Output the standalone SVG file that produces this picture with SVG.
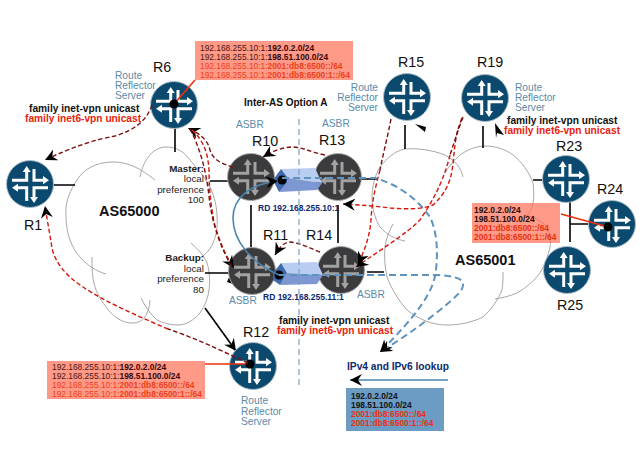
<svg xmlns="http://www.w3.org/2000/svg" width="640" height="451" viewBox="0 0 640 451">
<style>
text{font-family:"Liberation Sans",Arial,sans-serif}
.cloud{fill:none;stroke:#a8a8a8;stroke-width:1}
.bl{fill:none;stroke:#000;stroke-width:1.6}
.rd,.dk{fill:none;stroke-width:1.4;stroke-dasharray:4.5 2.5}
.rd{stroke:#d5170c}
.dk{stroke:#7d1010}
.blued{fill:none;stroke:#5f93bd;stroke-width:2;stroke-dasharray:7 4}
.or{fill:none;stroke:#f0300c;stroke-width:1.6}
.box{fill:#ff6a50;opacity:.68}
.rname{font-size:14.3px;fill:#111}
.rr{font-size:10.2px;fill:#5b8aa8}
.asbr{font-size:10.2px;fill:#5b8aa8}
.fam{font-size:10.2px;font-weight:700;fill:#111}
.famr{font-size:10.2px;font-weight:700;fill:#e8230c}
.t{font-size:8.4px;fill:#4a1510}
.t tspan{font-weight:700;fill:#3a0505}
.tr{font-size:8.4px;fill:#ef3f1c}
.tr tspan{font-weight:700}
.b{font-size:8.4px;font-weight:700;fill:#2a0a08}
.br{font-size:8.4px;font-weight:700;fill:#e8300f}
.rd8{font-size:8.5px;font-weight:700;fill:#0c2a70}
.pref{font-size:9.8px;fill:#222;text-anchor:end}
.as{font-size:14.5px;font-weight:700;fill:#111}
.blue circle{fill:#0b4a6e;stroke:#a9bcc8;stroke-width:1}
.blue use{fill:#fff}
.dark circle{fill:#3b3b3d;stroke:#a9a9a9;stroke-width:1}
.dark use{fill:#a2a2a2}
</style>
<defs>
<path id="ar" d="M-18-5.2H-4.8V-12H-7.3L-3.3-18 .7-12H-1.8V-2.2H-18ZM2.5-15H5.5V-5.2H13V-8L19-3.7 13 .3V-2.2H2.5ZM-18 3.7-12-.3V2.2H-1.8V17H-4.8V5.2H-12V7.7ZM2.5 2.2H18V5.2H5.5V13H8L4 19 0 13H2.5Z"/>
<marker id="h" markerUnits="userSpaceOnUse" markerWidth="14" markerHeight="12" refX="12" refY="6" orient="auto">
<path d="M12 6 0 0 4 6 0 12Z" fill="#000"/>
</marker>
</defs>

<g id="clouds">
<path class="cloud" d="M155 180C140 168 128 162 113 162C95 162 82 170 75 183C68 195 65 205 66 215C66 235 72 248 80 257C88 266 96 271 106 274"/>
<path class="cloud" d="M140 177C142 165 150 148 165 147C178 147 184 152 190 160C198 170 205 177 210 187C215 198 217 208 217 217C218 228 216 236 213 243C210 250 206 254 200 258"/>
<path class="cloud" d="M191 243C199 250 204 256 207 263C210 272 210 282 209 290C208 298 205 306 200 313C194 320 186 325 178 325C170 325 163 323 157 320C150 314 145 306 141 298"/>
<path class="cloud" d="M92 257C92 268 92 277 95 287C98 296 104 305 110 312C117 319 124 323 132 323C138 323 142 321 145 317C148 312 150 306 150 300"/>
<path class="cloud" d="M463 177C461 168 455 160 445 155C432 150 418 148 405 149C395 151 387 158 380 167C375 175 372 187 372 197C372 208 375 219 380 227C387 235 395 239 405 241"/>
<path class="cloud" d="M445 173C449 166 454 160 460 155C467 150 476 146 485 146C495 146 505 149 513 155C522 162 529 172 533 183C534 190 534 197 533 203C532 209 529 214 525 218"/>
<path class="cloud" d="M525 215C534 217 542 221 547 227C550 233 551 240 550 247C548 256 545 265 540 273C534 281 526 288 517 293C510 296 502 298 495 299"/>
<path class="cloud" d="M393 224C389 231 386 239 385 247C384 258 385 268 387 277C392 290 399 301 407 310C418 319 432 325 447 325C460 325 473 322 483 317C491 310 498 300 502 290C503 284 503 278 503 272"/>
</g>

<g id="connectors">
<path class="bl" d="M53 185H75M175 128V152M210 181H228M251 205V247M338 205V243M350 179H377M367 272H384M205 273H230M405 125V149M483 126V148M533 180H542M570 202V242M570 224H590"/>
<path class="bl" d="M205 308 236 351" marker-end="url(#h)"/>
<path d="M227 282 233 268 233 284Z" fill="#000"/>
<path d="M415 124 426 127 425 132 420 128Z" fill="#000"/>
<path d="M495 123 504 135 497 133 496 138Z" fill="#000"/>
</g>

<g id="R1" class="blue"><circle cx="30" cy="184" r="23.5"/><use href="#ar" x="30" y="184"/><text class="rname" x="24" y="230">R1</text></g>
<g id="R6" class="blue"><circle cx="174" cy="105" r="23.5"/><use href="#ar" x="174" y="105"/><text class="rname" x="153" y="72">R6</text>
<text class="rr" x="115" y="79">Route</text><text class="rr" x="115" y="89">Reflector</text><text class="rr" x="115" y="99">Server</text></g>
<g id="R10" class="dark"><circle cx="251" cy="177" r="23.5"/><use href="#ar" x="251" y="177"/><text class="rname" x="252" y="146">R10</text><text class="asbr" x="236" y="128">ASBR</text></g>
<g id="R13" class="dark"><circle cx="338" cy="177" r="23.5"/><use href="#ar" x="338" y="177"/><text class="rname" x="319" y="145">R13</text><text class="asbr" x="322" y="127">ASBR</text></g>
<g id="R11" class="dark"><circle cx="252" cy="271" r="23.5"/><use href="#ar" x="252" y="271"/><text class="rname" x="263" y="240">R11</text><text class="asbr" x="229" y="304">ASBR</text></g>
<g id="R14" class="dark"><circle cx="341" cy="270" r="23.5"/><use href="#ar" x="341" y="270"/><text class="rname" x="306" y="240">R14</text><text class="asbr" x="357" y="298">ASBR</text></g>
<g id="R12" class="blue"><circle cx="253" cy="366" r="23.5"/><use href="#ar" x="253" y="366"/><text class="rname" x="243" y="337">R12</text>
<text class="rr" x="241" y="404">Route</text><text class="rr" x="241" y="415">Reflector</text><text class="rr" x="241" y="425">Server</text></g>
<g id="R15" class="blue"><circle cx="407" cy="97" r="23.5"/><use href="#ar" x="407" y="97"/><text class="rname" x="398" y="67">R15</text>
<g text-anchor="end"><text class="rr" x="378" y="91">Route</text><text class="rr" x="378" y="101">Reflector</text><text class="rr" x="378" y="111">Server</text></g></g>
<g id="R19" class="blue"><circle cx="485" cy="98" r="23.5"/><use href="#ar" x="485" y="98"/><text class="rname" x="477" y="67">R19</text>
<text class="rr" x="515" y="91">Route</text><text class="rr" x="515" y="101">Reflector</text><text class="rr" x="515" y="111">Server</text></g>
<g id="R23" class="blue"><circle cx="566" cy="179" r="23.5"/><use href="#ar" x="566" y="179"/><text class="rname" x="556" y="151">R23</text></g>
<g id="R24" class="blue"><circle cx="612" cy="224" r="23.5"/><use href="#ar" x="612" y="224"/><text class="rname" x="597" y="194">R24</text></g>
<g id="R25" class="blue"><circle cx="567" cy="270" r="23.5"/><use href="#ar" x="567" y="270"/><text class="rname" x="557" y="310">R25</text></g>

<g id="vrf-upper">
<path d="M281 169 315 168 322 183 288 178Z" fill="#b9cdf2"/>
<path d="M288 178 322 183 317 190 279 192 287 183Z" fill="#7d97d2"/>
<path d="M273 180 281 169 288 178 287 183 279 192Z" fill="#3f68ad"/>
<circle cx="282" cy="180" r="4.5" fill="#000"/>
</g>
<g id="vrf-lower">
<path d="M281 263 317 262 323 275 287 273Z" fill="#b9cdf2"/>
<path d="M287 273 323 275 317 284 280 285Z" fill="#7d97d2"/>
<path d="M273 273 281 263 287 273 280 285 273 280Z" fill="#3f68ad"/>
<circle cx="279" cy="275" r="4.5" fill="#000"/>
</g>

<g id="connectors-overlay">
<path d="M279 275C250 262 233 240 233 218C233 198 250 184 278 181" fill="none" stroke="#4a86b0" stroke-width="1.6" marker-end="url(#h)"/>
<path class="blued" d="M282 178H375C403 186 420 203 430 217C437 232 438 250 436 270C434 292 417 315 380 352" marker-end="url(#h)"/>
<path class="blued" d="M279 275H437C452 276 462 278 463 283C464 290 458 295 440 310C420 326 400 340 380 352" marker-end="url(#h)"/>
<path d="M448 380H350" stroke="#4a86b0" stroke-width="1.4" fill="none" marker-end="url(#h)"/>

<path class="or" d="M174 104 195 80M205 364H250M561 214 608 227"/>
<circle cx="174" cy="104" r="4.5"/><circle cx="250" cy="364" r="4.5"/><circle cx="608" cy="227" r="4.5"/>

<path class="dk" d="M152 105C147 120 135 130 115 136C93 140 70 148 45 160" marker-end="url(#h)"/>
<path class="dk" d="M248 363C220 350 195 338 168 329"/>
<path class="rd" d="M168 329C140 317 105 302 83 287C65 275 55 262 52 248C50 235 48 225 45 206" marker-end="url(#h)"/>
<path class="dk" d="M233 167C222 164 213 160 210 150C208 140 200 134 188 128" marker-end="url(#h)"/>
<path class="rd" d="M192 130C205 142 208 155 209 170C209 190 211 205 214 222C219 240 225 255 234 268" marker-end="url(#h)"/>
<path class="dk" d="M190 129C200 148 206 170 209 196C212 225 221 248 232 267" stroke-dasharray="3 4"/>
<path class="dk" d="M325 155C310 152 305 148 293 147C283 147 273 151 263 157" marker-end="url(#h)"/>
<path class="dk" d="M320 252C310 248 300 243 290 242C284 242 279 248 275 255" marker-end="url(#h)"/>
<path class="dk" d="M391 119C388 135 384 150 380 170"/>
<path class="rd" d="M380 170C376 185 372 200 371 220C370 235 365 250 358 264" marker-end="url(#h)"/>
<path class="dk" d="M463 117C458 130 455 140 450 155"/>
<path class="rd" d="M450 155C445 175 437 195 420 220C405 235 380 250 356 267" marker-end="url(#h)"/>
<path class="dk" d="M462 118C458 128 456 135 455 145"/>
<path class="rd" d="M455 145C452 165 455 185 433 205C420 210 405 209 390 208C375 206 360 205 343 204" marker-end="url(#h)"/>
</g>

<line x1="299" y1="119" x2="299" y2="388" stroke="#7ba3b8" stroke-width="1.2" stroke-dasharray="6 4"/>

<rect class="box" x="195" y="41" width="158" height="39"/>
<text class="t" x="200" y="50.5">192.168.255.10:1:<tspan>192.0.2.0/24</tspan></text>
<text class="t" x="200" y="59.5">192.168.255.10:1:<tspan>198.51.100.0/24</tspan></text>
<text class="tr" x="200" y="68.5">192.168.255.10:1:<tspan>2001:db8:6500::/64</tspan></text>
<text class="tr" x="200" y="77.5">192.168.255.10:1:<tspan>2001:db8:6500:1::/64</tspan></text>

<rect class="box" x="472" y="203" width="88" height="40"/>
<text class="b" x="474" y="213">192.0.2.0/24</text>
<text class="b" x="474" y="222">198.51.100.0/24</text>
<text class="br" x="474" y="231">2001:db8:6500::/64</text>
<text class="br" x="474" y="240">2001:db8:6500:1::/64</text>

<rect class="box" x="47" y="361" width="158" height="38"/>
<text class="t" x="52" y="369.5">192.168.255.10:1:<tspan>192.0.2.0/24</tspan></text>
<text class="t" x="52" y="378.5">192.168.255.10:1:<tspan>198.51.100.0/24</tspan></text>
<text class="tr" x="52" y="387.5">192.168.255.10:1:<tspan>2001:db8:6500::/64</tspan></text>
<text class="tr" x="52" y="396.5">192.168.255.10:1:<tspan>2001:db8:6500:1::/64</tspan></text>

<rect x="346" y="388" width="98" height="43" fill="#6c9bc4"/>
<text class="b" x="351" y="399" style="fill:#111">192.0.2.0/24</text>
<text class="b" x="351" y="408" style="fill:#111">198.51.100.0/24</text>
<text class="br" x="351" y="417">2001:db8:6500::/64</text>
<text class="br" x="351" y="426">2001:db8:6500:1::/64</text>

<text class="fam" x="29" y="112">family inet-vpn unicast</text>
<text class="famr" x="25" y="122">family inet6-vpn unicast</text>
<text class="fam" x="507" y="124">family inet-vpn unicast</text>
<text class="famr" x="504" y="134">family inet6-vpn unicast</text>
<text class="fam" x="279" y="324">family inet-vpn unicast</text>
<text class="famr" x="277" y="334">family inet6-vpn unicast</text>

<text x="244" y="106" font-size="10" font-weight="700" fill="#111">Inter-AS Option A</text>
<text class="as" x="99" y="216">AS65000</text>
<text class="as" x="455" y="265">AS65001</text>
<text class="pref" x="204" y="171.5" font-weight="700">Master:</text>
<text class="pref" x="204" y="182">local</text>
<text class="pref" x="204" y="192.5">preference</text>
<text class="pref" x="204" y="203">100</text>
<text class="pref" x="204" y="261" font-weight="700">Backup:</text>
<text class="pref" x="204" y="271.5">local</text>
<text class="pref" x="204" y="282">preference</text>
<text class="pref" x="204" y="292.5">80</text>
<text class="rd8" x="258" y="211">RD 192.168.255.10:1</text>
<text class="rd8" x="263" y="300">RD 192.168.255.11:1</text>
<text x="347" y="370" font-size="10.2" font-weight="700" fill="#0c2a70">IPv4 and IPv6 lookup</text>
</svg>
